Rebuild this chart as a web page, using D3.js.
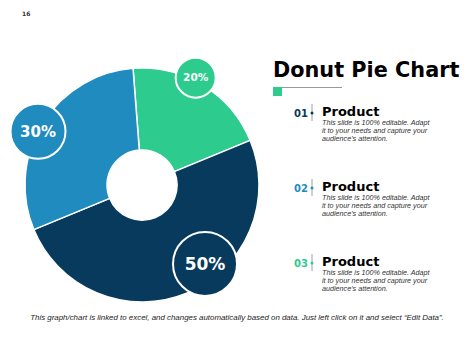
<!DOCTYPE html>
<html>
<head>
<meta charset="utf-8">
<script src="https://cdn.jsdelivr.net/npm/d3@7"></script>
<style>
  body { margin: 0; background: #fff; }
  svg { display: block; }
</style>
</head>
<body>
<div id="chart"></div>
<script>
// slice data, in drawing order (clockwise from the top)
const labels = ["Green", "Navy", "Blue"];
const values = [20, 50, 30];
const colors = ["#2dcb8e", "#073a5c", "#1f8bbf"];

// right-hand legend
const itemNumbers = ["01", "02", "03"];
const itemTitles = ["Product", "Product", "Product"];
const itemColors = ["#073a5c", "#1f8bbf", "#2dcb8e"];
const itemText = [
    "This slide is 100% editable. Adapt",
    "it to your needs and capture your",
    "audience's attention."
];

const width = 474, height = 355;
const cx = 142, cy = 185;
const outerR = 117, innerR = 35;

const svg = d3.select("#chart")
    .append("svg")
    .attr("width", width)
    .attr("height", height);

// page number
svg.append("text")
    .attr("x", 22).attr("y", 16)
    .attr("font-family", "DejaVu Sans")
    .attr("font-weight", "bold")
    .attr("font-size", 6)
    .attr("fill", "#333")
    .text("16");

let pie = d3.pie()
    .sort(null)
    .startAngle(-4.4 * Math.PI / 180)
    .endAngle((360 - 4.4) * Math.PI / 180);

let arc = d3.arc()
    .innerRadius(innerR)
    .outerRadius(outerR);

const arcs = pie(values);

const donut = svg.append("g")
    .attr("transform", "translate(" + cx + "," + cy + ")");

donut.selectAll("path")
    .data(arcs)
    .enter().append("path")
    .attr("d", arc)
    .style("fill", (d, i) => colors[i])
    .style("stroke", "white")
    .style("stroke-width", 1.5);

// badge circles - sit over each slice, size grows with value
let badgeR = d3.scaleLinear().domain([20, 30, 50]).range([20, 27.5, 32]);
let fontSize = d3.scaleLinear().domain([20, 30, 50]).range([10.5, 15, 17]);
// where on the slice each badge sits (fraction of slice span, distance from centre)
const badgeAt = [[0.43, 120], [0.41, 101], [0.46, 117]];

const badges = donut.selectAll("g.badge")
    .data(arcs)
    .enter().append("g")
    .attr("class", "badge")
    .attr("transform", (d, i) => {
        let a = d.startAngle + (d.endAngle - d.startAngle) * badgeAt[i][0];
        let r = badgeAt[i][1];
        return "translate(" + (r * Math.sin(a)) + "," + (-r * Math.cos(a)) + ")";
    });

badges.append("circle")
    .attr("r", d => badgeR(d.data))
    .style("fill", (d, i) => colors[i])
    .style("stroke", "white")
    .style("stroke-width", 2);

badges.append("text")
    .attr("text-anchor", "middle")
    .attr("dy", "0.36em")
    .attr("font-family", "DejaVu Sans")
    .attr("font-weight", "bold")
    .attr("font-size", d => fontSize(d.data))
    .attr("fill", "white")
    .text(d => d.data + "%");

// title
svg.append("text")
    .attr("x", 273).attr("y", 77)
    .attr("font-family", "DejaVu Sans")
    .attr("font-weight", "bold")
    .attr("font-size", 20.8)
    .attr("fill", "#000")
    .text("Donut Pie Chart");

svg.append("line")
    .attr("x1", 282).attr("x2", 342)
    .attr("y1", 87.5).attr("y2", 87.5)
    .style("stroke", "#999")
    .style("stroke-width", 1);

svg.append("rect")
    .attr("x", 273).attr("y", 87)
    .attr("width", 9).attr("height", 9)
    .style("fill", "#2dcb8e");

// legend items
const items = svg.selectAll("g.item")
    .data(itemNumbers)
    .enter().append("g")
    .attr("class", "item")
    .attr("transform", (d, i) => "translate(0," + (i * 75) + ")");

items.append("text")
    .attr("x", 294).attr("y", 117)
    .attr("font-family", "DejaVu Sans")
    .attr("font-weight", "bold")
    .attr("font-size", 10)
    .attr("fill", (d, i) => itemColors[i])
    .text(d => d);

items.append("line")
    .attr("x1", 312).attr("x2", 312)
    .attr("y1", 104).attr("y2", 121)
    .style("stroke", "#888")
    .style("stroke-width", 0.8);

items.append("circle")
    .attr("cx", 312).attr("cy", 113)
    .attr("r", 1.5)
    .style("fill", (d, i) => itemColors[i]);

items.append("text")
    .attr("x", 322).attr("y", 116)
    .attr("font-family", "DejaVu Sans")
    .attr("font-weight", "bold")
    .attr("font-size", 13)
    .attr("fill", "#000")
    .text((d, i) => itemTitles[i]);

items.selectAll("text.desc")
    .data(itemText)
    .enter().append("text")
    .attr("class", "desc")
    .attr("x", 322)
    .attr("y", (d, j) => 124.5 + j * 8)
    .attr("font-family", "Liberation Sans")
    .attr("font-style", "italic")
    .attr("font-size", 7.2)
    .attr("fill", "#333")
    .text(d => d);

// footer note
svg.append("text")
    .attr("x", 237).attr("y", 320)
    .attr("text-anchor", "middle")
    .attr("font-family", "Liberation Sans")
    .attr("font-style", "italic")
    .attr("font-size", 7.9)
    .attr("fill", "#222")
    .text("This graph/chart is linked to excel, and changes automatically based on data. Just left click on it and select \u201cEdit Data\u201d.");
</script>
</body>
</html>
